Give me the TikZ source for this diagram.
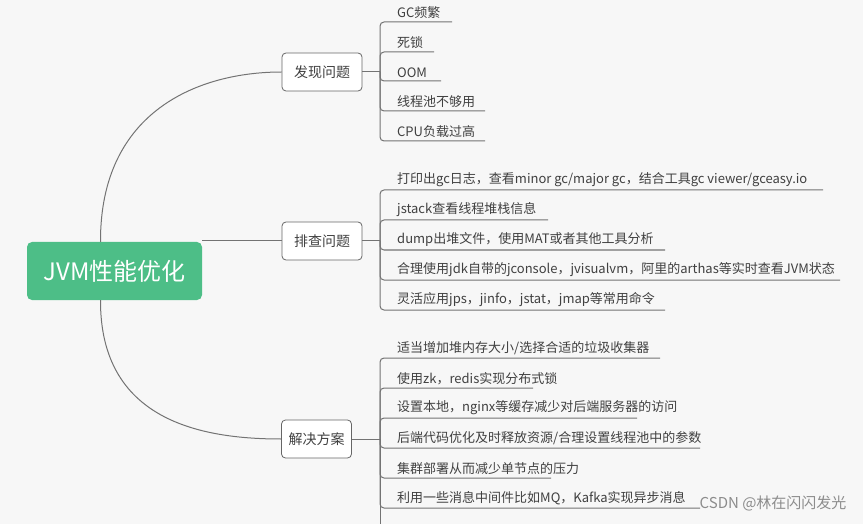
\documentclass[tikz,border=0pt]{standalone}
\usepackage{fontspec}
\setmainfont{Noto Sans CJK SC}
\begin{document}
\begin{tikzpicture}[x=1pt,y=-1pt,
  leaf/.style={anchor=south west,inner sep=1pt,text=black!75,font=\fontsize{13}{15}\selectfont},
  br/.style={draw=black!60,rounded corners=4pt,fill=white,minimum width=80pt,minimum height=38pt,font=\fontsize{14}{16}\selectfont,text=black!75,line width=0.8pt},
  ln/.style={draw=black!55,line width=1pt}]
\fill[black!3] (0,0) rectangle (863,524);
\useasboundingbox (0,0) rectangle (863,524);
\node[fill={rgb,255:red,77;green,190;blue,135},rounded corners=5pt,minimum width=175pt,minimum height=58pt,text=white,font=\fontsize{24}{28}\selectfont] (root) at (114.5,271) {JVM性能优化};
\node[br] (b1) at (322,72) {发现问题};
\node[br] (b2) at (322,241) {排查问题};
\node[br,minimum width=70pt] (b3) at (316.5,439) {解决方案};
\draw[ln] ([xshift=-14pt]root.north) .. controls (100,110) and (200,72) .. (b1.west);
\draw[ln] (root.east |- b2.west) -- (b2.west);
\draw[ln] ([xshift=-14pt]root.south) .. controls (100,420) and (200,439) .. (b3.west);
% group 1
\coordinate (j1) at (380,72);
\draw[ln] (b1.east) -- (j1);
\foreach \y/\e/\t [count=\i] in {22/452/{GC频繁},52/434/{死锁},81/441/{OOM},111/485/{线程池不够用},141/485/{CPU负载过高}}{
  \coordinate (e1\i) at (\e,\y);
  \draw[ln,rounded corners=4pt] (j1) -- (j1 |- e1\i) -- (e1\i);
  \node[leaf] (l1\i) at (396,\y-2) {\t};
}
% group 2
\coordinate (j2) at (380,241);
\draw[ln] (b2.east) -- (j2);
\foreach \y/\e/\t [count=\i] in {190/823/{打印出gc日志，查看minor gc/major gc，结合工具gc viewer/gceasy.io},220/548/{jstack查看线程堆栈信息},250/665/{dump出堆文件，使用MAT或者其他工具分析},280/840/{合理使用jdk自带的jconsole，jvisualvm，阿里的arthas等实时查看JVM状态},310/665/{灵活应用jps，jinfo，jstat，jmap等常用命令}}{
  \coordinate (e2\i) at (\e,\y);
  \draw[ln,rounded corners=4pt] (j2) -- (j2 |- e2\i) -- (e2\i);
  \node[leaf] (l2\i) at (396,\y-2) {\t};
}
% group 3
\coordinate (j3) at (380,439);
\coordinate (j3b) at (380,524);
\draw[ln] (b3.east) -- (j3);
\draw[ln] (j3) -- (j3b);
\foreach \y/\e/\t [count=\i] in {358/660/{适当增加堆内存大小/选择合适的垃圾收集器},388/533/{使用zk，redis实现分布式锁},418/637/{设置本地，nginx等缓存减少对后端服务器的访问},448/700/{后端代码优化及时释放资源/合理设置线程池中的参数},478/551/{集群部署从而减少单节点的压力},508/700/{利用一些消息中间件比如MQ，Kafka实现异步消息}}{
  \coordinate (e3\i) at (\e,\y);
  \draw[ln,rounded corners=4pt] (j3) -- (j3 |- e3\i) -- (e3\i);
  \node[leaf] (l3\i) at (396,\y-2) {\t};
}
\node[anchor=east,text=black!45,font=\fontsize{15}{18}\selectfont] (wm) at (850,503) {CSDN @林在闪闪发光};
\end{tikzpicture}
\end{document}
